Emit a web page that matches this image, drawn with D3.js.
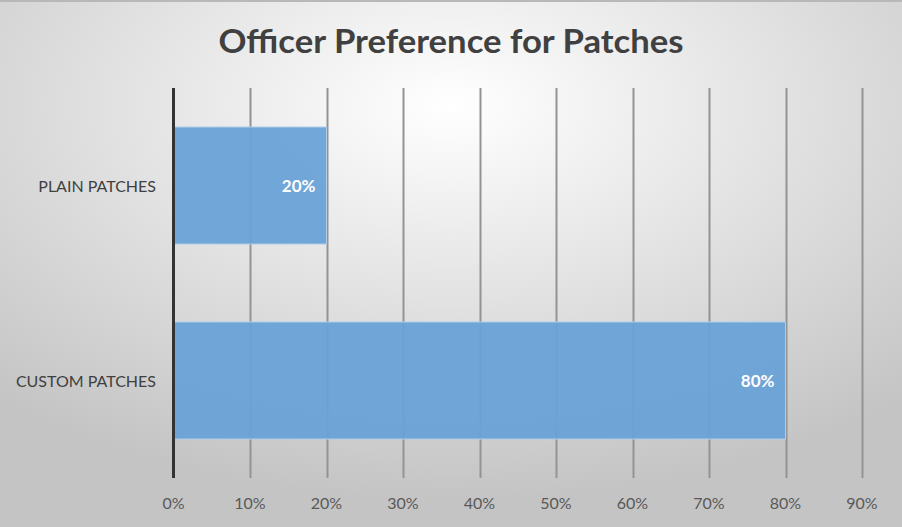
<!DOCTYPE html>
<html><head><meta charset="utf-8">
<script src="https://cdn.jsdelivr.net/npm/d3@7"></script>
<style>html,body{margin:0;padding:0;overflow:hidden;}</style>
</head><body>
<script>
const categories = ["PLAIN PATCHES", "CUSTOM PATCHES"];
const values = [0.20, 0.80];
const ticks = [0,0.1,0.2,0.3,0.4,0.5,0.6,0.7,0.8,0.9];
const title = "Officer Preference for Patches";

const W = 902, H = 527;
const svg = d3.select("body").append("svg").attr("width", W).attr("height", H);
const defs = svg.append("defs");
const rg = defs.append("radialGradient").attr("id","bg").attr("cx","50%").attr("cy","20%").attr("r","75%");
rg.append("stop").attr("offset","0%").attr("stop-color","#ffffff");
rg.append("stop").attr("offset","100%").attr("stop-color","#c4c4c4");
svg.append("rect").attr("width",W).attr("height",H).attr("fill","url(#bg)");
svg.append("rect").attr("x",0).attr("y",0).attr("width",W).attr("height",2).attr("fill","#b8b8b8");

const x = d3.scaleLinear().domain([0,0.9]).range([173.5,862]);
const y = d3.scaleBand().domain(categories).range([88,478]).paddingInner(0.4).paddingOuter(0.2);

const font = "Lato, 'Open Sans', sans-serif";

svg.append("text").attr("x",451).attr("y",53).attr("text-anchor","middle")
  .attr("font-family",font).attr("font-weight","bold").attr("font-size",33)
  .attr("fill","#404040").attr("textLength",465).attr("lengthAdjust","spacingAndGlyphs").text(title);

// gridlines
svg.append("g").selectAll("line").data(ticks.slice(1)).join("line")
  .attr("x1",d=>Math.round(x(d))+0.5).attr("x2",d=>Math.round(x(d))+0.5)
  .attr("y1",88).attr("y2",478).attr("stroke","#939393").attr("stroke-width",2);

// bars
svg.append("g").selectAll("rect").data(values).join("rect")
  .attr("x",x(0)).attr("y",(d,i)=>y(categories[i]))
  .attr("width",d=>x(d)-x(0)).attr("height",y.bandwidth())
  .attr("fill","#69a2d7").attr("fill-opacity",0.94)
  .attr("stroke","#b0cdea").attr("stroke-width",1);

// data labels
svg.append("g").selectAll("text").data(values).join("text")
  .attr("x",d=>x(d)-11).attr("y",(d,i)=>y(categories[i])+y.bandwidth()/2+6)
  .attr("text-anchor","end").attr("font-family",font).attr("font-weight","bold")
  .attr("font-size",17).attr("fill","#ffffff").text(d=>d3.format(".0%")(d));

// left axis line
svg.append("line").attr("x1",x(0)).attr("x2",x(0)).attr("y1",88).attr("y2",478)
  .attr("stroke","#333333").attr("stroke-width",3);

// x tick labels
svg.append("g").selectAll("text").data(ticks).join("text")
  .attr("x",d=>x(d)).attr("y",509).attr("text-anchor","middle")
  .attr("font-family",font).attr("font-size",16).attr("fill","#595959")
  .text(d=>d3.format(".0%")(d));

// category labels
svg.append("g").selectAll("text").data(categories).join("text")
  .attr("x",156).attr("y",d=>y(d)+y.bandwidth()/2+6).attr("text-anchor","end")
  .attr("font-family",font).attr("font-size",16).attr("fill","#404040").text(d=>d);
</script>
</body></html>
